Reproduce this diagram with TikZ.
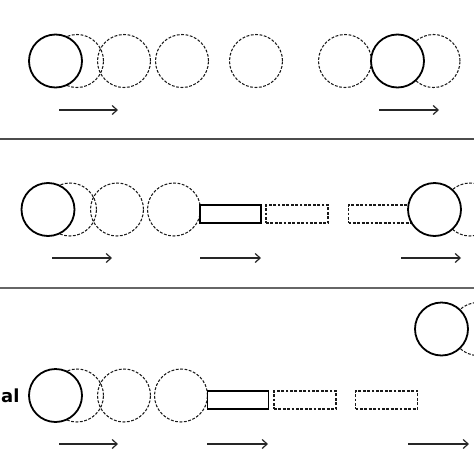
\documentclass[tikz,border=0pt]{standalone}
\usepackage{fontspec}
\newfontfamily\labelfont{DejaVu Sans}
\usetikzlibrary{arrows.meta}
\begin{document}
\begin{tikzpicture}[x=1pt,y=-1pt,
  ghost/.style={circle,draw=black!90,dash pattern=on 2.8pt off 1.6pt,line width=1.05pt,minimum size=53pt,inner sep=0pt},
  ball/.style={circle,draw=black,fill=white,line width=1.8pt,minimum size=53pt,inner sep=0pt},
  ghostbar/.style={rectangle,draw=black!90,dash pattern=on 2.8pt off 1.6pt,line width=1.05pt,minimum width=62pt,minimum height=18pt,inner sep=0pt},
  bar/.style={rectangle,draw=black,fill=white,line width=1.8pt,minimum width=61pt,minimum height=18pt,inner sep=0pt},
  move/.style={line width=1.2pt,draw=black!85,-{Straight Barb[length=5pt,width=9pt,line width=1.2pt]}},
  sep/.style={line width=1.3pt,draw=black!70}]
\useasboundingbox (0,0) rectangle (474,474);
\fill[white] (0,0) rectangle (474,474);
% ---------- row 1 ----------
\node[ghost] (a2) at (77,61) {};
\node[ghost] (a3) at (124,61) {};
\node[ghost] (a4) at (182,61) {};
\node[ghost] (a5) at (256,61) {};
\node[ghost] (a6) at (345,61) {};
\node[ghost] (a8) at (433.5,61) {};
\node[ball] (a1) at (55.5,61) {};
\node[ball] (a7) at (397.5,61) {};
\coordinate (p1s) at (59,110); \coordinate (p1e) at (118,110);
\coordinate (p2s) at (379,110); \coordinate (p2e) at (439,110);
\draw[move] (p1s) -- (p1e);
\draw[move] (p2s) -- (p2e);
\coordinate (s1a) at (0,139); \coordinate (s1b) at (474,139);
\draw[sep] (s1a) -- (s1b);
% ---------- row 2 ----------
\node[ghost] (b2) at (70,209.5) {};
\node[ghost] (b3) at (117,209.5) {};
\node[ghost] (b4) at (174,209.5) {};
\node[ghostbar] (b6) at (297,214) {};
\node[ghostbar] (b7) at (379.5,214) {};
\node[ghost] (b9) at (470,209.5) {};
\node[ball] (b1) at (48,209.5) {};
\node[bar] (b5) at (230.5,214) {};
\node[ball] (b8) at (434.5,209.5) {};
\coordinate (q1s) at (52,258); \coordinate (q1e) at (112,258);
\coordinate (q2s) at (200,258); \coordinate (q2e) at (261,258);
\coordinate (q3s) at (401,258); \coordinate (q3e) at (461,258);
\draw[move] (q1s) -- (q1e);
\draw[move] (q2s) -- (q2e);
\draw[move] (q3s) -- (q3e);
\coordinate (s2a) at (0,288); \coordinate (s2b) at (474,288);
\draw[sep,line width=2pt,draw=black!60] (s2a) -- (s2b);
% ---------- row 3 ----------
\node[ghost] (c2) at (77,395.5) {};
\node[ghost] (c3) at (124,395.5) {};
\node[ghost] (c4) at (181,395.5) {};
\node[ghostbar] (c6) at (305,400) {};
\node[ghostbar] (c7) at (386.5,400) {};
\node[ghost] (c9) at (478,329) {};
\node[ball] (c1) at (55.5,395.5) {};
\node[bar] (c5) at (238,400) {};
\node[ball] (c8) at (441.5,329) {};
\coordinate (r1s) at (59,444); \coordinate (r1e) at (118,444);
\coordinate (r2s) at (207,444); \coordinate (r2e) at (268,444);
\coordinate (r3s) at (408,444); \coordinate (r3e) at (469,444);
\draw[move] (r1s) -- (r1e);
\draw[move] (r2s) -- (r2e);
\draw[move] (r3s) -- (r3e);
\node[anchor=base west,inner sep=0pt,font=\labelfont\bfseries\fontsize{18}{18}\selectfont] (lab) at (1,402) {al};
\end{tikzpicture}
\end{document}
